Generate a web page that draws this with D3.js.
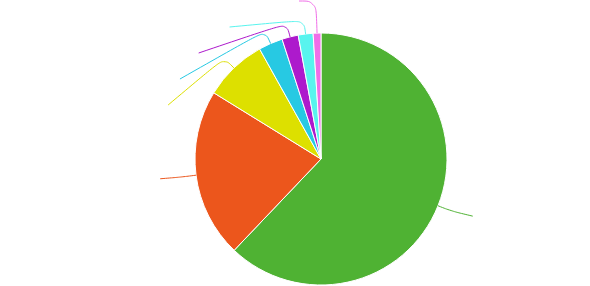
<!DOCTYPE html>
<html lang="en">
<head>
<meta charset="UTF-8">
<script src="https://cdnjs.cloudflare.com/ajax/libs/d3/7.8.5/d3.min.js"></script>
<title>Pie</title>
<style>
  body { margin: 0; background: #fff; }
</style>
</head>
<body>
<script>
// data (no labels are shown, only the guide lines)
const categories = ["A", "B", "C", "D", "E", "F", "G"]
const values = [62.1, 21.7, 8.1, 3.1, 2.1, 1.9, 1.0]
const colors = ["#4fb233", "#ec561c", "#dde000", "#27c9e3", "#ad1acc", "#58f4ee", "#f06ee8"]

const width = 590, height = 286
const cx = 321, cy = 159, radius = 126
const len1 = 14, len2 = 22, gap = 26, rB = 152, topBound = 1
const smooth = 0.4

const svg = d3.select("body").append("svg")
  .attr("width", width)
  .attr("height", height)

const pie = d3.pie().sort(null).value(d => d.value)
const arcs = pie(categories.map((c, i) => ({ name: c, value: values[i], color: colors[i] })))

const arc = d3.arc().innerRadius(0).outerRadius(radius)

const g = svg.append("g").attr("transform", `translate(${cx},${cy})`)

g.selectAll("path.slice").data(arcs).enter().append("path")
  .attr("class", "slice")
  .attr("d", arc)
  .attr("fill", d => d.data.color)
  .attr("stroke", "#fff")
  .attr("stroke-width", 1)

// label line geometry, in coords relative to the centre
let labels = arcs.map(d => {
  const a = (d.startAngle + d.endAngle) / 2
  const ux = Math.sin(a), uy = -Math.cos(a)
  const p0 = [ux * radius, uy * radius]
  const p1 = [ux * (radius + len1), uy * (radius + len1)]
  const y0 = uy * (radius + len1 + 14)
  return { d, ux, uy, p0, p1, y0, y: y0, side: ux < 0 ? -1 : 1 }
})

// keep labels on one side apart: groups of overlapping labels are centred then kept inside the top
function spread(list) {
  list.sort((a, b) => a.y - b.y)
  let groups = list.map(l => ({ items: [l], mean: l.y0 }))
  let changed = true
  while (changed) {
    changed = false
    groups.forEach(gr => {
      const n = gr.items.length
      gr.top = gr.mean - (n - 1) * gap / 2
      gr.top = Math.max(gr.top, topBound - cy)
      gr.bottom = gr.top + (n - 1) * gap
    })
    for (let i = 0; i < groups.length - 1; i++) {
      if (groups[i].bottom + gap > groups[i + 1].top) {
        const items = groups[i].items.concat(groups[i + 1].items)
        groups.splice(i, 2, { items, mean: d3.mean(items, l => l.y0) })
        changed = true
        break
      }
    }
  }
  groups.forEach(gr => gr.items.forEach((l, k) => { l.y = gr.top + k * gap }))
}
spread(labels.filter(l => l.side < 0))
spread(labels.filter(l => l.side > 0))

labels.forEach(l => {
  const rA = radius + len1
  const dx = rA * Math.sqrt(Math.max(0, 1 - l.y * l.y / (rB * rB)))
  l.p2 = [l.side * (dx + len2), l.y]
  // label pushed above the elbow: run the first leg further out
  if (l.y < l.p1[1]) {
    const t = (l.y - l.p0[1]) / l.uy
    l.p1 = [l.p0[0] + l.ux * t, l.y]
  }
})

function guidePath(l) {
  const [p0, p1, p2] = [l.p0, l.p1, l.p2]
  const p = d3.path()
  p.moveTo(p0[0], p0[1])
  const d1 = Math.hypot(p1[0] - p0[0], p1[1] - p0[1])
  const d2 = Math.hypot(p2[0] - p1[0], p2[1] - p1[1])
  const m = Math.min(d1, d2) * smooth
  const m0 = [p1[0] + (p0[0] - p1[0]) * m / d1, p1[1] + (p0[1] - p1[1]) * m / d1]
  const m2 = [p1[0] + (p2[0] - p1[0]) * m / d2, p1[1] + (p2[1] - p1[1]) * m / d2]
  const mid = [(m0[0] + m2[0]) / 2, (m0[1] + m2[1]) / 2]
  p.bezierCurveTo(m0[0], m0[1], m0[0], m0[1], mid[0], mid[1])
  p.bezierCurveTo(m2[0], m2[1], m2[0], m2[1], p2[0], p2[1])
  return p.toString()
}

g.selectAll("path.guide").data(labels).enter().append("path")
  .attr("class", "guide")
  .attr("d", guidePath)
  .attr("fill", "none")
  .attr("stroke", l => l.d.data.color)
  .attr("stroke-width", 1)
</script>
</body>
</html>
